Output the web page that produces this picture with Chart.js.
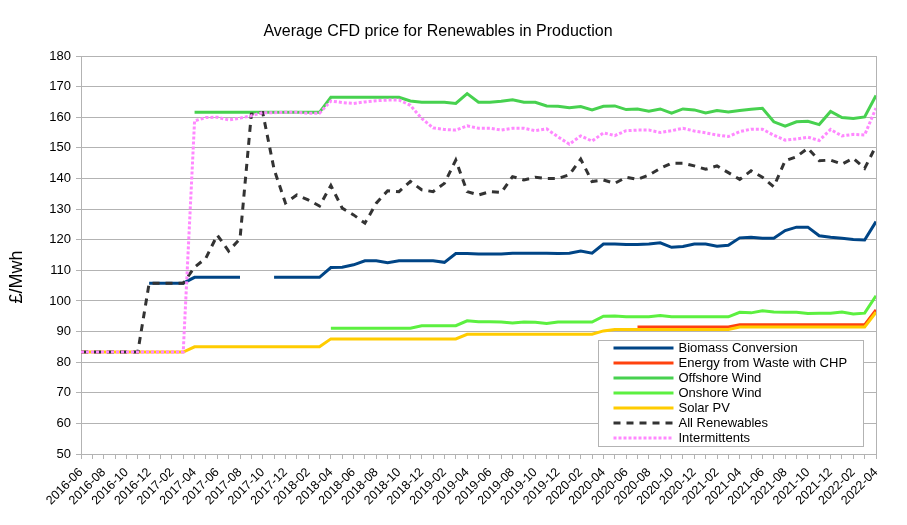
<!DOCTYPE html>
<html>
<head>
<meta charset="utf-8">
<style>
  body { margin: 0; background: #fff; }
  canvas { display: block; }
</style>
</head>
<body>
<canvas id="cfdChart" width="907" height="525"></canvas>

<script src="https://cdn.jsdelivr.net/npm/chart.js"></script>
<script>
  // months 2016-06 .. 2022-04
  const months = [
    "2016-06", "2016-07", "2016-08", "2016-09", "2016-10", "2016-11", "2016-12",
    "2017-01", "2017-02", "2017-03", "2017-04", "2017-05", "2017-06", "2017-07", "2017-08", "2017-09", "2017-10", "2017-11", "2017-12",
    "2018-01", "2018-02", "2018-03", "2018-04", "2018-05", "2018-06", "2018-07", "2018-08", "2018-09", "2018-10", "2018-11", "2018-12",
    "2019-01", "2019-02", "2019-03", "2019-04", "2019-05", "2019-06", "2019-07", "2019-08", "2019-09", "2019-10", "2019-11", "2019-12",
    "2020-01", "2020-02", "2020-03", "2020-04", "2020-05", "2020-06", "2020-07", "2020-08", "2020-09", "2020-10", "2020-11", "2020-12",
    "2021-01", "2021-02", "2021-03", "2021-04", "2021-05", "2021-06", "2021-07", "2021-08", "2021-09", "2021-10", "2021-11", "2021-12",
    "2022-01", "2022-02", "2022-03", "2022-04",
  ];

  const yTicks = [50, 60, 70, 80, 90, 100, 110, 120, 130, 140, 150, 160, 170, 180];

  const biomass = [
    null, null, null, null, null, null, 105.8,
    105.8, 105.8, 105.8, 107.7, 107.7, 107.7, 107.7, 107.7, null, null, 107.7, 107.7,
    107.7, 107.7, 107.7, 110.9, 111, 111.8, 113.1, 113.1, 112.5, 113.1, 113.1, 113.1,
    113.1, 112.6, 115.5, 115.5, 115.3, 115.3, 115.3, 115.6, 115.6, 115.6, 115.6, 115.5,
    115.6, 116.3, 115.6, 118.6, 118.6, 118.4, 118.4, 118.6, 119, 117.5, 117.8, 118.6,
    118.6, 117.9, 118.2, 120.6, 120.8, 120.5, 120.5, 123, 124.1, 124.1, 121.3, 120.8,
    120.5, 120.1, 119.9, 125.9,
  ];

  const energyFromWaste = [
    null, null, null, null, null, null, null,
    null, null, null, null, null, null, null, null, null, null, null, null,
    null, null, null, null, null, null, null, null, null, null, null, null,
    null, null, null, null, null, null, null, null, null, null, null, null,
    null, null, null, null, null, null, 91.5, 91.5, 91.5, 91.5, 91.5, 91.5,
    91.5, 91.5, 91.5, 92.2, 92.2, 92.2, 92.2, 92.2, 92.2, 92.2, 92.2, 92.2,
    92.2, 92.2, 92.2, 97.1,
  ];

  const offshoreWind = [
    null, null, null, null, null, null, null,
    null, null, null, 161.6, 161.6, 161.6, 161.6, 161.6, 161.6, 161.6, 161.6, 161.6,
    161.6, 161.6, 161.6, 166.5, 166.5, 166.5, 166.5, 166.5, 166.5, 166.5, 165.3, 164.9,
    164.9, 164.9, 164.5, 167.7, 164.9, 164.9, 165.2, 165.7, 164.9, 164.9, 163.7, 163.6,
    163.1, 163.5, 162.4, 163.6, 163.7, 162.5, 162.7, 162, 162.7, 161.3, 162.7, 162.4,
    161.4, 162.2, 161.7, 162.2, 162.6, 162.9, 158.5, 157.1, 158.5, 158.7, 157.6, 161.9,
    159.9, 159.6, 160.1, 167.1,
  ];

  const onshoreWind = [
    null, null, null, null, null, null, null,
    null, null, null, null, null, null, null, null, null, null, null, null,
    null, null, null, 91.1, 91.1, 91.1, 91.1, 91.1, 91.1, 91.1, 91.1, 91.9,
    91.9, 91.9, 91.9, 93.5, 93.2, 93.2, 93.1, 92.8, 93.1, 93, 92.6, 93.1,
    93.1, 93.1, 93.1, 95, 95.1, 94.8, 94.8, 94.8, 95.2, 94.8, 94.8, 94.8,
    94.8, 94.8, 94.8, 96.3, 96.1, 96.8, 96.4, 96.3, 96.3, 95.9, 96, 96,
    96.4, 95.7, 96, 101.7,
  ];

  const solarPV = [
    83.3, 83.3, 83.3, 83.3, 83.3, 83.3, 83.3,
    83.3, 83.3, 83.3, 85, 85, 85, 85, 85, 85, 85, 85, 85,
    85, 85, 85, 87.6, 87.6, 87.6, 87.6, 87.6, 87.6, 87.6, 87.6, 87.6,
    87.6, 87.6, 87.6, 89.1, 89.1, 89.1, 89.1, 89.1, 89.1, 89.1, 89.1, 89.1,
    89.1, 89.1, 89.1, 90.2, 90.7, 90.7, 90.7, 90.7, 90.7, 90.7, 90.7, 90.7,
    90.7, 90.7, 90.7, 91.5, 91.5, 91.5, 91.5, 91.5, 91.5, 91.5, 91.5, 91.5,
    91.5, 91.5, 91.5, 96.3,
  ];

  const allRenewables = [
    83.3, 83.3, 83.3, 83.3, 83.3, 83.3, 105.8,
    105.8, 105.8, 105.8, 111, 114, 121.5, 116.3, 120.3, 161, 161.5, 143, 132,
    134.6, 133, 131, 137.7, 130.3, 128.1, 125.4, 131.9, 136, 135.7, 139, 136.3,
    135.7, 138.4, 146, 135.7, 134.6, 135.7, 135.4, 140.6, 139.5, 140.4, 140, 140,
    141.2, 146.3, 139, 139.5, 138.4, 140.4, 139.7, 141.1, 143.3, 145, 145, 144.1,
    143, 144.1, 141.9, 139.7, 142.5, 140.4, 137.3, 145.8, 147.1, 149.9, 145.8, 146,
    144.7, 146.6, 143.3, 150.6,
  ];

  const intermittents = [
    83.3, 83.3, 83.3, 83.3, 83.3, 83.3, 83.3,
    83.3, 83.3, 83.3, 158.8, 159.9, 160, 159.1, 159.7, 160.5, 161.5, 161.5, 161.6,
    161.6, 161.3, 161.3, 165.3, 164.8, 164.5, 165, 165.4, 165.6, 165.6, 163.9, 159.6,
    156.5, 156, 155.8, 157.2, 156.4, 156.4, 155.8, 156.4, 156.4, 155.6, 156.2, 153.6,
    151.2, 153.9, 152.2, 154.9, 154, 155.6, 155.8, 155.8, 155, 155.6, 156.4, 155.5,
    154.9, 154.2, 153.7, 155.3, 156.1, 156.1, 154.1, 152.5, 152.9, 153.5, 152.4, 156,
    153.9, 154.4, 154.2, 163,
  ];

  const gridColor = "#b3b3b3";
  Chart.defaults.font.family = "'Liberation Sans', Arial, sans-serif";
  Chart.defaults.color = "#000";

  function series(label, data, color, dash) {
    return {
      label: label,
      data: data,
      borderColor: color,
      backgroundColor: color,
      borderWidth: 3,
      borderDash: dash || [],
      pointRadius: 0,
      pointHoverRadius: 0,
      tension: 0,
      fill: false,
    };
  }

  const datasets = [
    series("Biomass Conversion", biomass, "#004586"),
    series("Energy from Waste with CHP", energyFromWaste, "#ff420e"),
    series("Offshore Wind", offshoreWind, "#47d14f"),
    series("Onshore Wind", onshoreWind, "#5cf040"),
    series("Solar PV", solarPV, "#ffcc00"),
    series("All Renewables", allRenewables, "#333333", [7, 6]),
    series("Intermittents", intermittents, "#ff88ff", [3, 2]),
  ];
  // later series drawn on top, like the original
  datasets.forEach((d, i) => (d.order = datasets.length - i));

  // frame, y title and boxed legend inside the plot
  const extras = {
    id: "extras",
    afterDraw(chart) {
      const c = chart.ctx;
      const area = chart.chartArea;
      c.save();

      c.strokeStyle = gridColor;
      c.lineWidth = 1;
      c.beginPath();
      c.moveTo(Math.round(area.right) + 0.5, area.top);
      c.lineTo(Math.round(area.right) + 0.5, area.bottom);
      c.stroke();

      c.translate(17, 277);
      c.rotate(-Math.PI / 2);
      c.font = "18px 'Liberation Sans', Arial, sans-serif";
      c.fillStyle = "#000";
      c.textAlign = "center";
      c.textBaseline = "middle";
      c.fillText("£/Mwh", 0, 0);
      c.setTransform(1, 0, 0, 1, 0, 0);
      c.scale(chart.currentDevicePixelRatio, chart.currentDevicePixelRatio);

      const bx = Math.round(area.right) - 278 + 0.5;
      const by = Math.round(area.bottom) - 114 + 0.5;
      c.fillStyle = "#fff";
      c.fillRect(bx, by, 265, 106);
      c.strokeStyle = gridColor;
      c.strokeRect(bx, by, 265, 106);

      c.font = "13px 'Liberation Sans', Arial, sans-serif";
      c.textAlign = "left";
      c.textBaseline = "middle";
      chart.data.datasets.forEach((ds, k) => {
        const ry = by + 7.5 + 15 * k;
        c.strokeStyle = ds.borderColor;
        c.lineWidth = 3;
        c.setLineDash(ds.borderDash);
        c.beginPath();
        c.moveTo(bx + 15, ry);
        c.lineTo(bx + 75, ry);
        c.stroke();
        c.setLineDash([]);
        c.fillStyle = "#000";
        c.fillText(ds.label, bx + 80, ry);
      });
      c.restore();
    },
  };

  const ctx = document.getElementById("cfdChart").getContext("2d");

  new Chart(ctx, {
    type: "line",
    data: { labels: months, datasets: datasets },
    plugins: [extras],
    options: {
      responsive: false,
      animation: false,
      devicePixelRatio: 1,
      layout: { padding: { left: 0, right: 31, top: 0, bottom: 0 } },
      plugins: {
        legend: { display: false },
        tooltip: { enabled: false },
        title: {
          display: true,
          text: "Average CFD price for Renewables in Production",
          font: { size: 16, weight: "normal" },
          color: "#000",
          padding: { top: 22, bottom: 14.8 },
        },
      },
      scales: {
        x: {
          offset: false,
          grid: {
            drawOnChartArea: false,
            drawTicks: true,
            tickLength: 5,
            color: gridColor,
          },
          border: { color: gridColor },
          ticks: {
            autoSkip: false,
            maxRotation: 45,
            minRotation: 45,
            padding: 6,
            font: { size: 12.5 },
            callback: function (value, index) {
              return index % 2 === 0 ? months[index] : "";
            },
          },
          afterFit: function (scale) {
            scale.height = 71;
          },
        },
        y: {
          min: yTicks[0],
          max: yTicks[yTicks.length - 1],
          grid: { color: gridColor, tickLength: 5 },
          border: { color: gridColor },
          afterBuildTicks: function (scale) {
            scale.ticks = yTicks.map((v) => ({ value: v }));
          },
          ticks: { font: { size: 13 }, padding: 5 },
          afterFit: function (scale) {
            scale.width = 81;
          },
        },
      },
    },
  });
</script>
</body>
</html>
